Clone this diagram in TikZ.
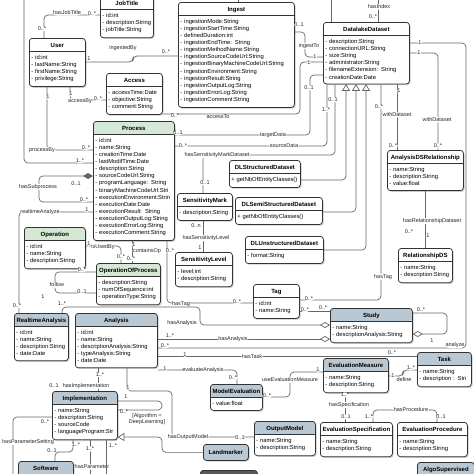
\documentclass[tikz,border=0pt]{standalone}
\usepackage{fontspec}
\setmainfont{Liberation Sans}
\usepackage{tikz}
\usetikzlibrary{arrows.meta,shadows,positioning}
\setlength{\parindent}{0pt}

\definecolor{boxline}{HTML}{333333}
\definecolor{wire}{HTML}{666666}
\definecolor{grnhead}{HTML}{D5E8D4}
\definecolor{bluhead}{HTML}{BAC8D3}
\definecolor{darkhead}{HTML}{595959}

\newcommand{\clsname}[1]{{\centering\fontsize{6}{7.1}\selectfont\bfseries #1\par}\vspace{4.9pt}}

\begin{document}
\begin{tikzpicture}[x=1pt, y=-1pt,
    cls/.style={draw=boxline, line width=0.75pt, rounded corners=3pt, fill=white, anchor=north west,
        inner xsep=2pt, inner ysep=4.8pt, align=left, font=\fontsize{5.8}{7.1}\selectfont,
        drop shadow={shadow xshift=1.2pt, shadow yshift=-1.2pt, fill=black!40, opacity=.5}},
    hdr/.style={path picture={
        \fill[#1] ([yshift=2pt]path picture bounding box.north west) rectangle ([yshift=-13pt]path picture bounding box.north east);
        \draw[boxline, line width=0.7pt] ([yshift=-13pt]path picture bounding box.north west) -- ([yshift=-13pt]path picture bounding box.north east);}},
    hdr/.default=white,
    link/.style={draw=wire, line width=0.7pt, rounded corners=4pt},
    comp/.style={link, {Diamond[length=10pt, width=6pt]}-},
    aggr/.style={link, -{Diamond[open, length=10pt, width=6pt]}},
    inh/.style={link, -{Triangle[open, length=6.5pt, width=8pt]}},
    lbl/.style={font=\fontsize{5.5}{6}\selectfont, text=black!85, fill=white, inner sep=0.5pt}
]
    \useasboundingbox (0,0) rectangle (474,474);
    \fill[white] (-2,-2) rectangle (476,476);

    % upper classes
    \node[cls, hdr, text width=49pt] (jobtitle) at (100,-4) {\clsname{JobTitle}- id:int\\- description:String\\- jobTitle:String};
    \node[cls, hdr, text width=52pt] (user) at (29,38) {\clsname{User}- id:int\\- lastName:String\\- firstName:String\\- privilege:String};
    \node[cls, hdr, text width=112pt] (ingest) at (178,2) {\clsname{Ingest}- ingestionMode:String\\- ingestionStartTime:String\\- definedDuration:int\\- ingestionEndTime: String\\- ingestionMethodName:String\\- ingestionSourceCodeUrl:String\\- ingestionBinaryMachineCodeUrl:String\\- ingestionEnvironment:String\\- ingestionResult:String\\- ingestionOutputLog:String\\- ingestionErrorLog:String\\- ingestionComment:String};
    \node[cls, hdr, text width=52pt] (access) at (106,73) {\clsname{Access}- accessTime:Date\\- objective:String\\- comment:String};
    \node[cls, hdr, text width=82pt] (datalake) at (323,22) {\clsname{DatalakeDataset}- description:String\\- connectionURL:String\\- size:String\\- administrator:String\\- filenameExtension: String\\- creationDate:Date};

    % process side
    \node[cls, hdr=grnhead, text width=77pt] (process) at (93,121) {\clsname{Process}- id:int\\- name:String\\- creationTime:Date\\- lastModifTime:Date\\- description:String\\- sourceCodeUrl:String\\- programLanguage: String\\- binaryMachineCodeUrl:Stri\\- executionEnvironment:Strin\\- executionDate:Date\\- executionResult: String\\- executionOutputLog:String\\- executionErrorLog:String\\- executionComment:String};
    \node[cls, hdr=grnhead, text width=57pt] (operation) at (24,227) {\clsname{Operation}- id:int\\- name:String\\- description:String};
    \node[cls, hdr=grnhead, text width=60pt] (oop) at (96,263) {\clsname{OperationOfProcess}- description:String\\- numOfSequence:int\\- operationType:String};

    % dataset side
    \node[cls, hdr, text width=67pt] (dlstruct) at (229,160) {\clsname{DLStructuredDataset}+ getNbOfEntityClasses()};
    \node[cls, hdr, text width=83pt] (dlsemi) at (235,197) {\clsname{DLSemiStructuredDataset}+ getNbOfEntityClasses()};
    \node[cls, hdr, text width=74pt] (dlunstruct) at (245,236) {\clsname{DLUnstructuredDataset}- format:String};
    \node[cls, hdr, text width=51pt] (sensmark) at (177,193) {\clsname{SensitivityMark}- description:String};
    \node[cls, hdr, text width=53pt] (senslevel) at (175,252) {\clsname{SensitivityLevel}- level:int\\- description:String};
    \node[cls, hdr, text width=42pt] (tag) at (253,284) {\clsname{Tag}- id:int\\- name:String};
    \node[cls, hdr, text width=72pt] (analysisds) at (387,150) {\clsname{AnalysisDSRelationship}- name:String\\- description:String\\- value:float};
    \node[cls, hdr, text width=50pt] (relds) at (398,248) {\clsname{RelationshipDS}- name:String\\- description:String};

    % analysis side
    \node[cls, hdr=bluhead, text width=78pt] (study) at (330,308) {\clsname{Study}- name:String\\- descriptionAnalysis:String};
    \node[cls, hdr=bluhead, text width=50pt] (realtime) at (14,313) {\clsname{RealtimeAnalysis}- id:int\\- name:String\\- description:String\\- date:Date};
    \node[cls, hdr=bluhead, text width=78pt] (analysis) at (75,313) {\clsname{Analysis}- id:int\\- name:String\\- descriptionAnalysis:String\\- typeAnalysis:String\\- date:Date};
    \node[cls, hdr=bluhead, text width=61pt] (implementation) at (52,391) {\clsname{Implementation}- name:String\\- description:String\\- sourceCode\\- languageProgram:Str};
    \node[cls, hdr=bluhead, text width=48pt] (modeleval) at (210,384) {\clsname{ModelEvaluation}- value:float};
    \node[cls, hdr=bluhead, text width=57pt] (outputmodel) at (254,421) {\clsname{OutputModel}- name:String\\- description:String};
    \node[cls, hdr=bluhead, text width=61pt] (evalmeasure) at (323,358) {\clsname{EvaluationMeasure}- name:String\\- description:String};
    \node[cls, hdr=bluhead, text width=50pt] (task) at (417,352) {\clsname{Task}- name:String\\- description : Stri};
    \node[cls, hdr, text width=68pt] (evalspec) at (320,422) {\clsname{EvaluationSpecification}- name:String\\- description:String};
    \node[cls, hdr, text width=66pt] (evalproc) at (397,422) {\clsname{EvaluationProcedure}- name:String\\- description:String};
    \node[cls, fill=bluhead, text width=41pt, minimum height=16pt] (landmarker) at (203,444) {{\centering\fontsize{6}{7.1}\selectfont\bfseries Landmarker\par}};
    \node[cls, hdr=bluhead, text width=51pt] (software) at (18,461) {\clsname{Software}\mbox{}};
    \node[cls, hdr=bluhead, text width=53pt] (algosup) at (417,462) {\clsname{AlgoSupervised}\mbox{}};
    \node[cls, fill=darkhead, minimum width=57pt, minimum height=12pt] (cutbox) at (200,470) {};

    % free ends at the border
    \coordinate (edgeA) at (24,-2);
    \coordinate (edgeB) at (238,-2);
    \coordinate (edgeC) at (331,-2);
    \coordinate (edgeD) at (378,-2);
    \coordinate (edgeE) at (13,476);
    \coordinate (edgeF) at (90,476);
    \coordinate (edgeG) at (106,476);

    % user links
    \draw[link] (user.north -| 44,0) |- (jobtitle.west |- 0,15)
        node[lbl] at (67,13) {hasJobTitle} node[lbl] at (92,14) {0..*} node[lbl] at (42,29) {0..*};
    \draw[link] (user.east |- 0,62) -- (133,62) |- (ingest.west |- 0,56)
        node[lbl] at (89,59) {1} node[lbl] at (123,48) {ingestedBy} node[lbl] at (166,52) {0..*};
    \draw[link] (user.south -| 70,0) |- (access.west |- 0,100)
        node[lbl] at (71,94) {1} node[lbl] at (80,101) {accessBy} node[lbl] at (98,99) {0..*};
    \draw[link] (user.south -| 47,0) |- (process.west |- 0,150)
        node[lbl] at (48,97) {1} node[lbl] at (42,150) {processBy} node[lbl] at (86,148) {0..*};
    \draw[link] (edgeA) |- (process.west |- 0,163) node[lbl] at (80,161) {1..*};

    % process links
    \draw[comp] (process.west |- 0,176) -| (39,202) -- (process.west |- 0,202)
        node[lbl] at (76,184) {0..1} node[lbl] at (38,187) {hasSubprocess} node[lbl] at (84,200) {0..*};
    \draw[link] (process.west |- 0,212) -| (realtime.north -| 19,0)
        node[lbl] at (87,210) {1} node[lbl] at (40,212) {realtimeAnalyze} node[lbl] at (17,306) {0..*};
    \draw[link] (operation.east |- 0,246) -| (oop.north -| 121,0)
        node[lbl] at (89,244) {1} node[lbl] at (103,247) {isUsedBy} node[lbl] at (121,257) {0..*};
    \draw[link] (process.south -| 132,0) -- (oop.north -| 132,0)
        node[lbl] at (134,245) {1} node[lbl] at (147,251) {containsOp} node[lbl] at (131,259) {0..*};
    \draw[link] (oop.west |- 0,272) -| (55,293) -- (oop.west |- 0,293)
        node[lbl] at (82,270) {0..*} node[lbl] at (57,285) {follow} node[lbl] at (82,292) {0..1} node[lbl] at (43,297) {1};
    \draw[link] (process.south -| 167,0) |- (tag.west |- 0,303)
        node[lbl] at (170,251) {0..*} node[lbl] at (181,304) {hasTag} node[lbl] at (237,302) {0..*};

    % links to the datalake
    \draw[link] (ingest.east |- 0,32) -| (305,57) -- (datalake.west |- 0,57)
        node[lbl] at (299,25) {0..1} node[lbl] at (309,46) {ingestTo} node[lbl] at (315,57) {1};
    \draw[link] (access.east |- 0,114) -| (300,62) -- (datalake.west |- 0,62)
        node[lbl] at (175,116) {0..*} node[lbl] at (218,117) {accessTo} node[lbl] at (309,63) {1};
    \draw[link] (process.east |- 0,135) -| (310,75) -- (datalake.west |- 0,75)
        node[lbl] at (178,133) {0..1} node[lbl] at (273,135) {targetData} node[lbl] at (309,88) {0..1};
    \draw[link] (process.east |- 0,146) -| (datalake.south -| 327,0)
        node[lbl] at (183,146) {0..*} node[lbl] at (284,146) {sourceData} node[lbl] at (326,110) {1..*};
    \draw[link] (sensmark.north -| 203,0) |- (335,155) -- (datalake.south -| 335,0)
        node[lbl] at (205,183) {0..1} node[lbl] at (217,155) {hasSensitivityMarkDataset} node[lbl] at (333,100) {0..1};
    \draw[link] (sensmark.south -| 203,0) -- (senslevel.north -| 203,0)
        node[lbl] at (196,226) {0..n} node[lbl] at (206,238) {hasSensitivityLevel} node[lbl] at (200,248) {1};
    \draw[inh] (dlstruct.east |- 0,180) -| (datalake.south -| 346,0);
    \draw[inh] (dlsemi.east |- 0,212) -| (datalake.south -| 356,0);
    \draw[inh] (dlunstruct.east |- 0,250) -| (datalake.south -| 366,0);
    \draw[link] (datalake.south -| 381,0) |- (tag.east |- 0,300)
        node[lbl] at (379,107) {0..*} node[lbl] at (383,277) {hasTag} node[lbl] at (309,299) {0..*};
    \draw[link] (datalake.south -| 397,0) -- (analysisds.north -| 397,0)
        node[lbl] at (399,91) {1} node[lbl] at (397,115) {withDataset} node[lbl] at (393,146) {0..*};
    \draw[link] (datalake.east |- 0,53) -| (analysisds.north -| 438,0)
        node[lbl] at (419,53) {1} node[lbl] at (437,120) {withDataset} node[lbl] at (438,146) {0..*};
    \draw[link] (analysisds.south -| 425,0) -- (relds.north -| 425,0)
        node[lbl] at (432,221) {hasRelationshipDataset} node[lbl] at (409,232) {0..*} node[lbl] at (428,236) {1};
    \draw[link] (datalake.east |- 0,43) -| (466,348) -- (analysis.east |- 0,348)
        node[lbl] at (420,43) {1} node[lbl] at (455,345) {analyze} node[lbl] at (165,346) {0..*};
    \draw[link] (datalake.north -| 378,0) -- (edgeD) node[lbl] at (379,7) {hasIndex} node[lbl] at (373,17) {0..*};
    \draw[link] (datalake.north -| 331,0) -- (edgeC);
    \draw[link] (ingest.north -| 238,0) -- (edgeB);

    % study and tag
    \draw[link] (tag.east |- 0,311) -- (study.west |- 0,311) node[lbl] at (305,310) {0..*} node[lbl] at (323,308) {0..*};
    \draw[aggr] (study.east |- 0,313) -| (447,334) -- (study.east |- 0,334) node[lbl] at (421,310) {0..*} node[lbl] at (432,341) {1};
    \draw[aggr] (realtime.north -| 62,0) |- (200,307) |- (study.west |- 0,325)
        node[lbl] at (62,304) {1..*} node[lbl] at (182,323) {hasAnalysis};
    \draw[aggr] (analysis.east |- 0,339) -- (study.west |- 0,339)
        node[lbl] at (170,336) {1..*} node[lbl] at (233,339) {hasAnalysis};

    % analysis links
    \draw[link] (analysis.east |- 0,356) -- (task.west |- 0,356)
        node[lbl] at (185,355) {1} node[lbl] at (252,357) {hasTask} node[lbl] at (392,353) {0..*};
    \draw[link] (analysis.east |- 0,370) -| (modeleval.north -| 237,0)
        node[lbl] at (165,369) {1} node[lbl] at (203,370) {evaluateAnalysis} node[lbl] at (233,378) {0..*};
    \draw[link] (modeleval.east |- 0,397) -| (290,372) -- (evalmeasure.west |- 0,372)
        node[lbl] at (267,396) {0..*} node[lbl] at (290,380) {useEvaluationMeasure} node[lbl] at (318,370) {1};
    \draw[link] (evalmeasure.east |- 0,376) -| (403,370) -- (task.west |- 0,370)
        node[lbl] at (393,376) {1} node[lbl] at (404,380) {define} node[lbl] at (411,368) {1..*};
    \draw[link] (evalmeasure.south -| 345,0) -- (evalspec.north -| 345,0)
        node[lbl] at (345,395) {1..*} node[lbl] at (349,405) {hasSpecification} node[lbl] at (346,417) {0..1};
    \draw[link] (evalspec.north -| 373,0) |- (437,410) -- (evalproc.north -| 437,0)
        node[lbl] at (369,417) {1..*} node[lbl] at (411,410) {hasProcedure} node[lbl] at (441,417) {0..1};
    \draw[link] (analysis.south -| 98,0) -- (implementation.north -| 98,0)
        node[lbl] at (100,375) {1..*} node[lbl] at (86,386) {hasImplementation} node[lbl] at (54,386) {0..1};
    \draw[link] (analysis.south -| 127,0) |- (172,391) |- (outputmodel.west |- 0,437)
        node[lbl] at (128,388) {1} node[lbl] at (188,437) {hasOutputModel} node[lbl] at (240,438) {0..1};

    % implementation links
    \draw[link] (implementation.east |- 0,401) -| (162,410) -- (implementation.east |- 0,410)
        node[lbl] at (126,397) {1} node[lbl] at (124,412) {0..*}
        node[lbl, align=center] at (147,419) {[Algorithm =\\DeepLearning]};
    \draw[inh] (landmarker.west) -| (162,437) -- (implementation.east |- 0,437);
    \draw[link] (edgeE) |- (implementation.west |- 0,417)
        node[lbl] at (45,422) {0..*} node[lbl] at (28,442) {hasParameterSetting};
    \draw[link] (implementation.south -| 73,0) |- (55,452) -- (software.north -| 55,0)
        node[lbl] at (76,445) {1..*} node[lbl] at (52,451) {0..1};
    \draw[link] (implementation.south -| 90,0) -- (edgeF) node[lbl] at (90,449) {1..*} node[lbl] at (92,467) {hasParameter};
    \draw[link] (implementation.south -| 106,0) -- (edgeG) node[lbl] at (113,446) {1..*};
\end{tikzpicture}
\end{document}
